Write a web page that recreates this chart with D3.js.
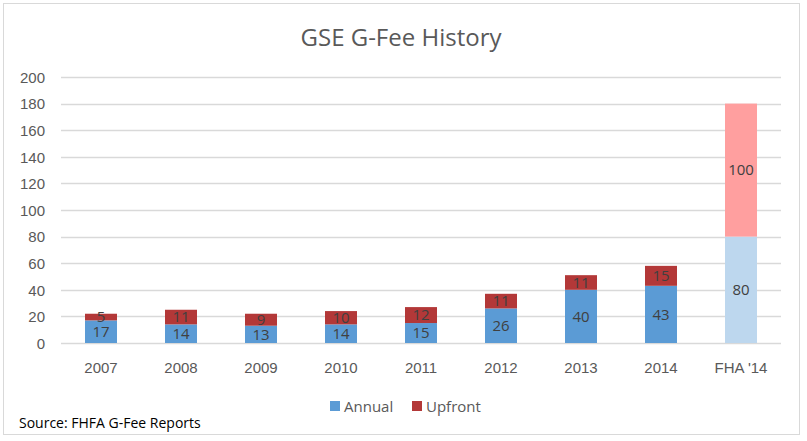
<!DOCTYPE html>
<html>
<head>
<meta charset="utf-8">
<script src="https://cdn.jsdelivr.net/npm/d3@7"></script>
<style>
  body { margin: 0; background: #fff; }
  svg { font-family: "Open Sans", sans-serif; }
</style>
</head>
<body>
<div id="chart"></div>
<script>
'use strict';

var categories = ['2007', '2008', '2009', '2010', '2011', '2012', '2013', '2014', "FHA '14"];
var annual = [17, 14, 13, 14, 15, 26, 40, 43, 80];
var upfront = [5, 11, 9, 10, 12, 11, 11, 15, 100];
var yTicks = [0, 20, 40, 60, 80, 100, 120, 140, 160, 180, 200];
var seriesNames = ['Annual', 'Upfront'];

var width = 807, height = 441;
var margin = {left: 61, right: 26, top: 77, bottom: 98};

var svg = d3.select('#chart').append('svg')
    .attr('width', width)
    .attr('height', height);

svg.append('rect')
    .attr('x', 3.5).attr('y', 3.5)
    .attr('width', 796).attr('height', 431)
    .attr('fill', '#fff')
    .attr('stroke', '#d9d9d9');

var x = d3.scaleBand()
    .domain(categories)
    .range([margin.left, width - margin.right])
    .paddingInner(0.6)
    .paddingOuter(0.3);

var y = d3.scaleLinear()
    .domain([0, 200])
    .range([height - margin.bottom, margin.top]);

// gridlines
svg.append('g').selectAll('line')
    .data(yTicks)
    .enter().append('line')
    .attr('x1', margin.left)
    .attr('x2', width - margin.right)
    .attr('y1', function(d) { return Math.round(y(d)) + 0.5; })
    .attr('y2', function(d) { return Math.round(y(d)) + 0.5; })
    .attr('stroke', '#d9d9d9')
    .attr('stroke-width', 1.5);

// y axis labels
var yAxis = d3.axisLeft(y).tickValues(yTicks).tickSize(0).tickPadding(0);
var yg = svg.append('g')
    .attr('transform', 'translate(45,0)')
    .call(yAxis);
yg.select('.domain').remove();
yg.selectAll('text')
    .attr('fill', '#595959')
    .style('font-size', '15px')
    .attr('dy', '0.35em');

// x axis labels
var xAxis = d3.axisBottom(x).tickSize(0).tickPadding(0);
var xg = svg.append('g')
    .attr('transform', 'translate(0,' + (height - margin.bottom) + ')')
    .call(xAxis);
xg.select('.domain').remove();
xg.selectAll('text')
    .attr('fill', '#595959')
    .style('font-size', '15px')
    .attr('y', 30)
    .attr('dy', 0);

function annualColor(i) { return categories[i] === "FHA '14" ? '#bdd7ee' : '#5b9bd5'; }
function upfrontColor(i) { return categories[i] === "FHA '14" ? '#ff9f9f' : '#b33838'; }

var bars = svg.append('g');

bars.selectAll('rect.annual')
    .data(annual)
    .enter().append('rect')
    .attr('class', 'annual')
    .attr('x', function(d, i) { return x(categories[i]); })
    .attr('width', x.bandwidth())
    .attr('y', function(d) { return y(d); })
    .attr('height', function(d) { return y(0) - y(d); })
    .attr('fill', function(d, i) { return annualColor(i); });

bars.selectAll('rect.upfront')
    .data(upfront)
    .enter().append('rect')
    .attr('class', 'upfront')
    .attr('x', function(d, i) { return x(categories[i]); })
    .attr('width', x.bandwidth())
    .attr('y', function(d, i) { return y(annual[i] + d); })
    .attr('height', function(d, i) { return y(annual[i]) - y(annual[i] + d); })
    .attr('fill', function(d, i) { return upfrontColor(i); });

// data labels
var labels = svg.append('g')
    .attr('text-anchor', 'middle')
    .attr('fill', '#404040')
    .style('font-size', '15px');

labels.selectAll('text.a')
    .data(annual)
    .enter().append('text')
    .attr('x', function(d, i) { return x(categories[i]) + x.bandwidth() / 2; })
    .attr('y', function(d) { return y(d / 2); })
    .attr('dy', '0.35em')
    .text(function(d) { return d; });

labels.selectAll('text.u')
    .data(upfront)
    .enter().append('text')
    .attr('x', function(d, i) { return x(categories[i]) + x.bandwidth() / 2; })
    .attr('y', function(d, i) { return y(annual[i] + d / 2); })
    .attr('dy', '0.35em')
    .text(function(d) { return d; });

// title
svg.append('text')
    .attr('x', 401)
    .attr('y', 46)
    .attr('text-anchor', 'middle')
    .attr('fill', '#595959')
    .style('font-size', '24px')
    .text('GSE G-Fee History');

// legend
var legendColors = ['#5b9bd5', '#b33838'];
var legendX = [330, 412];
var legend = svg.append('g').selectAll('g')
    .data(seriesNames)
    .enter().append('g')
    .attr('transform', function(d, i) { return 'translate(' + legendX[i] + ',401)'; });

legend.append('rect')
    .attr('width', 10).attr('height', 10)
    .attr('fill', function(d, i) { return legendColors[i]; });

legend.append('text')
    .attr('x', 14)
    .attr('y', 10.5)
    .attr('fill', '#595959')
    .style('font-size', '15px')
    .text(function(d) { return d; });

// source note
svg.append('text')
    .attr('x', 19)
    .attr('y', 428)
    .attr('fill', '#000')
    .style('font-size', '14px')
    .text('Source: FHFA G-Fee Reports');
</script>
</body>
</html>
